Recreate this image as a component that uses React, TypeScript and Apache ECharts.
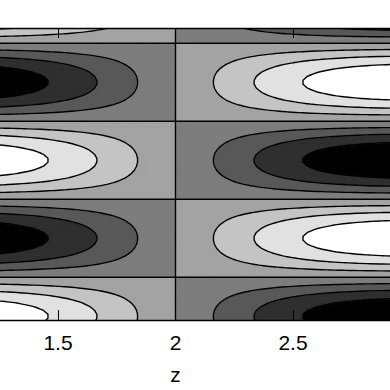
import React, { useEffect, useRef } from 'react';
import * as echarts from 'echarts';

// Sample grid of the field (z along x axis, y along vertical axis)
const zStart = 1.175;
const zStep = 0.05;
const yStart = -0.625;
const yStep = 0.05;

// profile of the field along z
const gProfile = [
  -0.9625, -0.9382, -0.9081, -0.8725, -0.8315, -0.7853, -0.7343, -0.6788, -0.6191,
  -0.5556, -0.4886, -0.4187, -0.3461, -0.2714, -0.1951, -0.1175, -0.0393,
  0.0393, 0.1175, 0.1951, 0.2714, 0.3461, 0.4187, 0.4886, 0.5556, 0.6191, 0.6788,
  0.7343, 0.7853, 0.8315, 0.8725, 0.9081, 0.9382, 0.9625, 0.9808, 0.9931, 0.9992, 0.9992,
];

// profile of the field along the vertical coordinate
const hProfile = [
  -0.9239, -0.9724, -0.9969, -0.9969, -0.9724, -0.9239, -0.8526, -0.7604, -0.6494,
  -0.5225, -0.3827, -0.2334, -0.0785,
  0.0785, 0.2334, 0.3827, 0.5225, 0.6494, 0.7604, 0.8526, 0.9239, 0.9724, 0.9969,
  0.9969, 0.9724, 0.9239, 0.8526, 0.7604, 0.6494, 0.5225, 0.3827, 0.2334, 0.0785,
  -0.0785, -0.2334, -0.3827, -0.5225, -0.6494, -0.7604, -0.8526, -0.9239, -0.9724, -0.9969,
  -0.9969, -0.9724, -0.9239, -0.8526, -0.7604, -0.6494, -0.5225, -0.3827, -0.2334, -0.0785,
  0.0785, 0.2334, 0.3827, 0.5225, 0.6494, 0.7604, 0.8526, 0.9239, 0.9724, 0.9969,
  0.9969, 0.9724, 0.9239, 0.8526, 0.7604, 0.6494, 0.5225, 0.3827, 0.2334, 0.0785,
  -0.0785, -0.2334, -0.3827, -0.5225, -0.6494,
];

const contourLevels = [-0.75, -0.5, -0.25, 0, 0.25, 0.5, 0.75];
const bandColors = ['#000000', '#2f2f2f', '#585858', '#7d7d7d', '#a3a3a3', '#c4c4c4', '#e1e1e1', '#ffffff'];

// visible axis window and tick labels
const xMin = 1.2532;
const xMax = 2.9128;
const xTicks = [1.5, 2, 2.5];
const yMin = -0.547;
const yMax = 3.195;
const xAxisName = 'z';

const FONT = '"Liberation Sans", Arial, Helvetica, sans-serif';

type Pt = { p: number[]; v: number };

function clipPoly(pts: Pt[], L: number, keepAbove: boolean): Pt[] {
  if (!isFinite(L)) return pts;
  const inside = (v: number) => (keepAbove ? v >= L : v <= L);
  const out: Pt[] = [];
  for (let k = 0; k < pts.length; k++) {
    const A = pts[k];
    const B = pts[(k + 1) % pts.length];
    const ia = inside(A.v);
    const ib = inside(B.v);
    if (ia) out.push(A);
    if (ia !== ib) {
      const t = (L - A.v) / (B.v - A.v);
      out.push({ p: [A.p[0] + t * (B.p[0] - A.p[0]), A.p[1] + t * (B.p[1] - A.p[1])], v: L });
    }
  }
  return out;
}

function renderContour(_params: any, api: any) {
  const nz = gProfile.length;
  const ny = hProfile.length;
  const P: number[][] = [];
  const V: number[] = [];
  for (let j = 0; j < ny; j++) {
    for (let i = 0; i < nz; i++) {
      P.push(api.coord([zStart + i * zStep, yStart + j * yStep]));
      V.push(gProfile[i] * hProfile[j]);
    }
  }
  const bandOf = (v: number) => {
    let b = 0;
    while (b < contourLevels.length && v > contourLevels[b]) b++;
    return b;
  };
  const poly = (pts: number[][], color: string) => ({
    type: 'polygon',
    shape: { points: pts },
    style: { fill: color, stroke: color, lineWidth: 1.2, lineJoin: 'round' },
  });
  const children: any[] = [];
  const tris: number[][] = [];

  for (let j = 0; j < ny - 1; j++) {
    let runStart = -1;
    let runBand = -1;
    const flush = (iEnd: number) => {
      if (runStart < 0) return;
      children.push(
        poly(
          [P[j * nz + runStart], P[j * nz + iEnd], P[(j + 1) * nz + iEnd], P[(j + 1) * nz + runStart]],
          bandColors[runBand]
        )
      );
      runStart = -1;
    };
    for (let i = 0; i < nz - 1; i++) {
      const ids = [j * nz + i, j * nz + i + 1, (j + 1) * nz + i + 1, (j + 1) * nz + i];
      // cell centre (bilinear centre value)
      const c = P.length;
      P.push([
        (P[ids[0]][0] + P[ids[1]][0] + P[ids[2]][0] + P[ids[3]][0]) / 4,
        (P[ids[0]][1] + P[ids[1]][1] + P[ids[2]][1] + P[ids[3]][1]) / 4,
      ]);
      V.push((V[ids[0]] + V[ids[1]] + V[ids[2]] + V[ids[3]]) / 4);
      const cellTris = [
        [c, ids[0], ids[1]],
        [c, ids[1], ids[2]],
        [c, ids[2], ids[3]],
        [c, ids[3], ids[0]],
      ];
      for (const t of cellTris) tris.push(t);
      const bs = ids.map((k) => bandOf(V[k]));
      bs.push(bandOf(V[c]));
      if (bs.every((b) => b === bs[0])) {
        if (runStart >= 0 && runBand !== bs[0]) flush(i);
        if (runStart < 0) {
          runStart = i;
          runBand = bs[0];
        }
      } else {
        flush(i);
        for (const t of cellTris) {
          const tb = t.map((k) => bandOf(V[k]));
          const bmin = Math.min(...tb);
          const bmax = Math.max(...tb);
          for (let b = bmin; b <= bmax; b++) {
            const lo = b === 0 ? -Infinity : contourLevels[b - 1];
            const hi = b === contourLevels.length ? Infinity : contourLevels[b];
            let pts: Pt[] = t.map((k) => ({ p: P[k], v: V[k] }));
            pts = clipPoly(pts, lo, true);
            pts = clipPoly(pts, hi, false);
            if (pts.length >= 3) children.push(poly(pts.map((q) => q.p), bandColors[b]));
          }
        }
      }
    }
    flush(nz - 1);
  }

  // contour lines
  for (const L of contourLevels) {
    const ptOf = new Map<string, number[]>();
    const segs: string[][] = [];
    const edgeKey = (a: number, b: number) => {
      const key = a < b ? a + '_' + b : b + '_' + a;
      if (!ptOf.has(key)) {
        const t = (L - V[a]) / (V[b] - V[a]);
        ptOf.set(key, [P[a][0] + t * (P[b][0] - P[a][0]), P[a][1] + t * (P[b][1] - P[a][1])]);
      }
      return key;
    };
    for (const t of tris) {
      const keys: string[] = [];
      const e = [
        [t[0], t[1]],
        [t[1], t[2]],
        [t[2], t[0]],
      ];
      for (const [a, b] of e) {
        if (V[a] > L !== V[b] > L) keys.push(edgeKey(a, b));
      }
      if (keys.length === 2) segs.push(keys);
    }
    const adj = new Map<string, number[]>();
    segs.forEach((s, idx) => {
      for (const k of s) {
        if (!adj.has(k)) adj.set(k, []);
        adj.get(k)!.push(idx);
      }
    });
    const used = new Array(segs.length).fill(false);
    const extend = (arr: string[]) => {
      for (;;) {
        const last = arr[arr.length - 1];
        const nxt = (adj.get(last) || []).find((i) => !used[i]);
        if (nxt === undefined) break;
        used[nxt] = true;
        const s = segs[nxt];
        arr.push(s[0] === last ? s[1] : s[0]);
      }
    };
    for (let s0 = 0; s0 < segs.length; s0++) {
      if (used[s0]) continue;
      used[s0] = true;
      const chain = [segs[s0][0], segs[s0][1]];
      extend(chain);
      chain.reverse();
      extend(chain);
      children.push({
        type: 'polyline',
        shape: { points: chain.map((k) => ptOf.get(k)) },
        style: { stroke: '#000', fill: null, lineWidth: 1.4, lineJoin: 'round', lineCap: 'round' },
      });
    }
  }
  return { type: 'group', children };
}

export default function App() {
  const ref = useRef<HTMLDivElement>(null);
  useEffect(() => {
    if (!ref.current) return;
    const chart = echarts.init(ref.current, null, { renderer: 'svg' });
    const axisCommon = {
      type: 'value' as const,
      min: xMin,
      max: xMax,
      z: 10,
      splitLine: { show: false },
      axisLine: { show: true, onZero: false, lineStyle: { color: '#000', width: 1.3 } },
      axisTick: {
        show: true,
        inside: true,
        length: 10,
        customValues: xTicks,
        lineStyle: { color: '#000', width: 1 },
      },
    };
    chart.setOption({
      animation: false,
      backgroundColor: '#ffffff',
      grid: { left: 0, right: 0, top: 28, bottom: 68, containLabel: false },
      xAxis: [
        {
          ...axisCommon,
          position: 'bottom',
          name: xAxisName,
          nameLocation: 'middle',
          nameGap: 44,
          nameTextStyle: { fontSize: 21, color: '#000', fontFamily: FONT, padding: [0, 39, 0, 0] },
          axisLabel: {
            show: true,
            fontSize: 21,
            color: '#000',
            margin: 12,
            fontFamily: FONT,
            customValues: xTicks,
            showMinLabel: true,
            showMaxLabel: true,
          },
        },
        {
          ...axisCommon,
          position: 'top',
          axisLabel: { show: false },
        },
      ],
      yAxis: {
        type: 'value',
        min: yMin,
        max: yMax,
        axisLabel: { show: false },
        axisTick: { show: false },
        splitLine: { show: false },
        axisLine: { show: false },
      },
      series: [
        {
          type: 'custom',
          coordinateSystem: 'cartesian2d',
          xAxisIndex: 0,
          yAxisIndex: 0,
          clip: true,
          silent: true,
          data: [[zStart, yStart]],
          renderItem: renderContour,
        },
      ],
    });
    return () => chart.dispose();
  }, []);
  return (
    <div
      ref={ref}
      style={{ position: 'fixed', left: 0, top: 0, width: 390, height: 390, background: '#fff' }}
    />
  );
}
